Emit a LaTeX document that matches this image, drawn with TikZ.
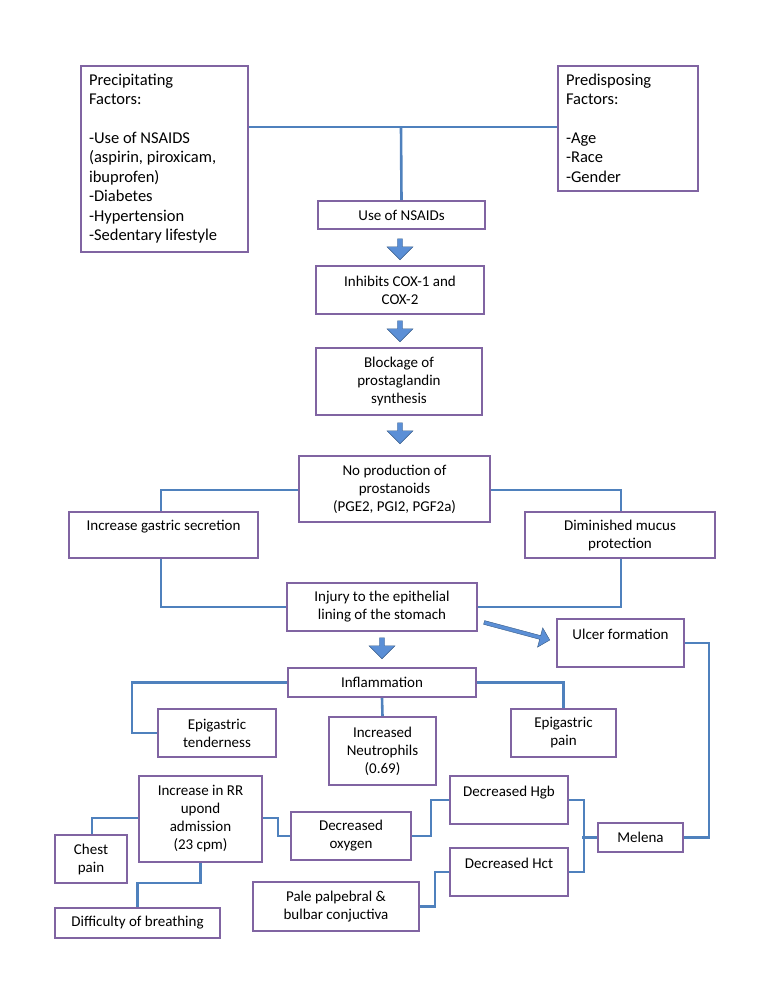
\documentclass[tikz,border=0pt]{standalone}
\usepackage{fontspec}
\setmainfont{Carlito}
\usetikzlibrary{shapes.arrows, positioning}
\definecolor{BoxPurple}{HTML}{8064A2}
\definecolor{LinkBlue}{HTML}{4F81BD}
\definecolor{ArrowBlue}{HTML}{5B8FD6}
\tikzset{
  box/.style={rectangle, draw=BoxPurple, line width=2pt, fill=white, align=center, font=\fontsize{15}{18}\selectfont, inner sep=3pt},
  bigbox/.style={box, align=flush left, font=\fontsize{16.5}{19.5}\selectfont, anchor=north west, inner sep=8pt},
  link/.style={draw=LinkBlue, line width=2.6pt},
  blockarrow/.style={single arrow, fill=ArrowBlue, draw=LinkBlue!70!black, line width=0.4pt, minimum width=26pt, single arrow head extend=5pt, inner sep=1pt},
  down/.style={blockarrow, minimum height=21pt, rotate=-90}
}
\begin{document}
\begin{tikzpicture}[x=1pt, y=-1pt]
  \useasboundingbox (0,0) rectangle (768,993);
  % top boxes
  \node[bigbox, text width=151pt, minimum height=180pt] (prec) at (80,65) {Precipitating\\Factors:\\[19pt]-Use of NSAIDS\\(aspirin, piroxicam,\\ibuprofen)\\-Diabetes\\-Hypertension\\-Sedentary lifestyle};
  \node[bigbox, text width=124pt, minimum height=123pt] (pred) at (557,65) {Predisposing\\Factors:\\[19pt]-Age\\-Race\\-Gender};
  \coordinate (junc) at (401,127);

  % main chain
  \node[box, minimum width=167pt, minimum height=28pt] (use) at (401.5,215) {Use of NSAIDs};
  \node[box, minimum width=168pt, minimum height=48pt] (cox) at (400,290) {Inhibits COX-1 and\\COX-2};
  \node[box, minimum width=166pt, minimum height=67pt] (block) at (399,381.5) {Blockage of\\prostaglandin\\synthesis};
  \node[box, minimum width=191pt, minimum height=66pt] (prost) at (394.5,489) {No production of\\prostanoids\\(PGE2, PGI2, PGF2a)};
  \node[box, minimum width=189pt, minimum height=46pt, text depth=20pt] (gastric) at (163.5,535) {Increase gastric secretion};
  \node[box, minimum width=190pt, minimum height=46pt] (mucus) at (620,535) {Diminished mucus\\protection};
  \node[box, minimum width=190pt, minimum height=48pt] (injury) at (382,607) {Injury to the epithelial\\lining of the stomach};
  \node[box, minimum width=127pt, minimum height=48pt, text depth=18pt] (ulcer) at (620.5,643) {Ulcer formation};
  \node[box, minimum width=188pt, minimum height=29pt] (inflam) at (382,682.5) {Inflammation};

  % block arrows
  \node[down] (a1) at (400,248) {};
  \node[down] (a2) at (400,330) {};
  \node[down] (a3) at (400,432) {};
  \node[down] (a4) at (382,647) {};
  \node[blockarrow, minimum height=68pt, minimum width=20pt, rotate=-15] (a5) at (516,631) {};

  % inflammation findings
  \node[box, minimum width=118pt, minimum height=48pt] (tender) at (217,733) {Epigastric\\tenderness};
  \node[box, minimum width=107pt, minimum height=68pt] (neutro) at (382.5,751) {Increased\\Neutrophils\\(0.69)};
  \node[box, minimum width=105pt, minimum height=48pt] (pain) at (563.5,733) {Epigastric\\pain};

  % lower part
  \node[box, minimum width=123pt, minimum height=86pt] (rr) at (200.5,819) {Increase in RR\\upond\\admission\\(23 cpm)};
  \node[box, minimum width=72pt, minimum height=48pt] (chest) at (91,859) {Chest\\pain};
  \node[box, minimum width=165pt, minimum height=30pt] (breath) at (137.5,923) {Difficulty of breathing};
  \node[box, minimum width=120pt, minimum height=48pt] (oxygen) at (351,836) {Decreased\\oxygen};
  \node[box, minimum width=118pt, minimum height=48pt, text depth=18pt] (hgb) at (509,800) {Decreased Hgb};
  \node[box, minimum width=118pt, minimum height=48pt, text depth=18pt] (hct) at (509,872) {Decreased Hct};
  \node[box, minimum width=85pt, minimum height=29pt] (melena) at (640.5,837.5) {Melena};
  \node[box, minimum width=166pt, minimum height=49pt] (pale) at (336,906.5) {Pale palpebral \&\\bulbar conjuctiva};

  % connectors
  \draw[link] (prec.east |- junc) -- (pred.west |- junc);
  \draw[link] (junc) -- (use.north);
  \draw[link] (prost.west |- 0,490) -| (gastric.north -| 161,0);
  \draw[link] (prost.east |- 0,490) -| (mucus.north -| 621,0);
  \draw[link] (gastric.south -| 161,0) |- (injury.west);
  \draw[link] (mucus.south -| 621,0) |- (injury.east);
  \draw[link] (ulcer.east) -- ++(24,0) |- (melena.east);
  \draw[link] (inflam.west) -- ++(-155,0) |- (tender.west);
  \draw[link] (inflam.south) -- (neutro.north);
  \draw[link] (inflam.east) -| (pain.north);
  \draw[link] (rr.west |- 0,818) -| (chest.north -| 92,0);
  \draw[link] (rr.south) -- ++(0,20) -| (breath.north);
  \draw[link] (rr.east |- 0,818) -- ++(15,0) |- (oxygen.west);
  \draw[link] (oxygen.east) -- ++(19,0) |- (hgb.west);
  \draw[link] (hgb.east) -- ++(15,0) |- (hct.east);
  \draw[link] (melena.west) -- ++(-15,0);
  \draw[link] (pale.east) -- ++(15,0) |- (hct.west);
\end{tikzpicture}
\end{document}
